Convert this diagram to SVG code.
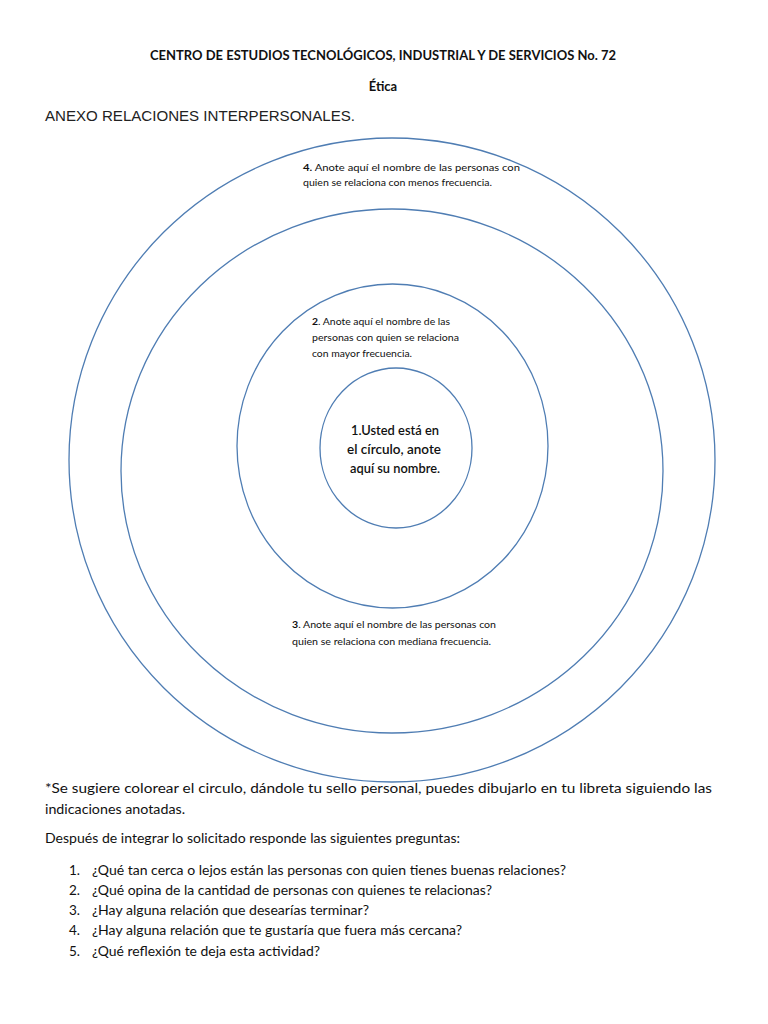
<svg xmlns="http://www.w3.org/2000/svg" width="768" height="1024" viewBox="0 0 768 1024">
<style>
.ring{fill:none;stroke:#4f7db3;stroke-width:1.3}
.c{font-family:Lato,"Open Sans","Liberation Sans",sans-serif;fill:#111}
.b{font-weight:bold}
.s{font-size:9px}
.m{font-size:13.5px}
.a{font-family:"Liberation Sans",Arial,sans-serif;font-size:14.5px;fill:#222}
</style>
<rect width="768" height="1024" fill="#fff"/>
<g id="header">
<text class="c b" x="383" y="60" font-size="13" text-anchor="middle" textLength="466" lengthAdjust="spacingAndGlyphs">CENTRO DE ESTUDIOS TECNOLÓGICOS, INDUSTRIAL Y DE SERVICIOS No. 72</text>
<text class="c b" x="383" y="91" font-size="13" text-anchor="middle">Ética</text>
<text class="a" x="45" y="121" textLength="310" lengthAdjust="spacingAndGlyphs">ANEXO RELACIONES INTERPERSONALES.</text>
</g>
<g id="ring4">
<ellipse class="ring" cx="392" cy="460" rx="323" ry="322"/>
<text class="c s" x="303" y="171" textLength="217" lengthAdjust="spacingAndGlyphs"><tspan class="b">4.</tspan> Anote aquí el nombre de las personas con</text>
<text class="c s" x="303" y="186" textLength="189" lengthAdjust="spacingAndGlyphs">quien se relaciona con menos frecuencia.</text>
</g>
<g id="ring3">
<ellipse class="ring" cx="392" cy="471" rx="271" ry="262"/>
<text class="c s" x="292" y="628" textLength="204" lengthAdjust="spacingAndGlyphs"><tspan class="b">3</tspan>. Anote aquí el nombre de las personas con</text>
<text class="c s" x="292" y="645" textLength="199" lengthAdjust="spacingAndGlyphs">quien se relaciona con mediana frecuencia.</text>
</g>
<g id="ring2">
<ellipse class="ring" cx="392.5" cy="446" rx="155.5" ry="162"/>
<text class="c s" x="312" y="325" textLength="138" lengthAdjust="spacingAndGlyphs"><tspan class="b">2</tspan>. Anote aquí el nombre de las</text>
<text class="c s" x="312" y="341" textLength="147" lengthAdjust="spacingAndGlyphs">personas con quien se relaciona</text>
<text class="c s" x="312" y="357" textLength="100" lengthAdjust="spacingAndGlyphs">con mayor frecuencia.</text>
</g>
<g id="ring1">
<ellipse class="ring" cx="396" cy="448" rx="76" ry="80"/>
<text class="c" x="395" y="435" font-size="12.5" font-weight="600" text-anchor="middle" textLength="88" lengthAdjust="spacingAndGlyphs">1.Usted está en</text>
<text class="c" x="394" y="454" font-size="12.5" font-weight="600" text-anchor="middle" textLength="94" lengthAdjust="spacingAndGlyphs">el círculo, anote</text>
<text class="c" x="395" y="473" font-size="12.5" font-weight="600" text-anchor="middle" textLength="90" lengthAdjust="spacingAndGlyphs">aquí su nombre.</text>
</g>
<g id="footer">
<text class="c m" x="45" y="793" textLength="667" lengthAdjust="spacingAndGlyphs">*Se sugiere colorear el circulo, dándole tu sello personal, puedes dibujarlo en tu libreta siguiendo las</text>
<text class="c m" x="45" y="814" textLength="140" lengthAdjust="spacingAndGlyphs">indicaciones anotadas.</text>
<text class="c m" x="45" y="843" textLength="415" lengthAdjust="spacingAndGlyphs">Después de integrar lo solicitado responde las siguientes preguntas:</text>
<text class="c m" x="69" y="875">1.</text>
<text class="c m" x="92" y="875" textLength="474" lengthAdjust="spacingAndGlyphs">¿Qué tan cerca o lejos están las personas con quien tienes buenas relaciones?</text>
<text class="c m" x="69" y="895">2.</text>
<text class="c m" x="92" y="895" textLength="400" lengthAdjust="spacingAndGlyphs">¿Qué opina de la cantidad de personas con quienes te relacionas?</text>
<text class="c m" x="69" y="915">3.</text>
<text class="c m" x="92" y="915" textLength="277" lengthAdjust="spacingAndGlyphs">¿Hay alguna relación que desearías terminar?</text>
<text class="c m" x="69" y="935">4.</text>
<text class="c m" x="92" y="935" textLength="370" lengthAdjust="spacingAndGlyphs">¿Hay alguna relación que te gustaría que fuera más cercana?</text>
<text class="c m" x="69" y="956">5.</text>
<text class="c m" x="92" y="956" textLength="228" lengthAdjust="spacingAndGlyphs">¿Qué reflexión te deja esta actividad?</text>
</g>
</svg>
